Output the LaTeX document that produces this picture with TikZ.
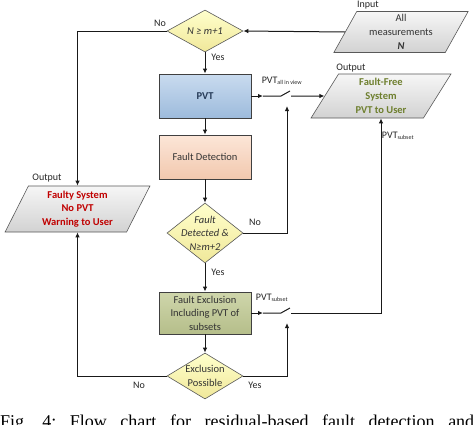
\documentclass[tikz,border=0pt]{standalone}
\usepackage{fontspec}
\setmainfont{Carlito}
\newfontfamily\capfont{Liberation Serif}
\usetikzlibrary{shapes.geometric,arrows.meta}
\definecolor{pvttop}{HTML}{C9DBEF}
\definecolor{pvtbot}{HTML}{9DBBDC}
\definecolor{fdtop}{HTML}{FCE6D8}
\definecolor{fdbot}{HTML}{F2C8AE}
\definecolor{fetop}{HTML}{CFD6AB}
\definecolor{febot}{HTML}{B5BE8A}
\definecolor{dtop}{HTML}{FFFFCC}
\definecolor{dbot}{HTML}{F0E89A}
\definecolor{iotop}{HTML}{F6F6F6}
\definecolor{iobot}{HTML}{D2D2D2}
\definecolor{olivetxt}{HTML}{6E7F2E}
\definecolor{redtxt}{HTML}{C00000}
\definecolor{bluetxt}{HTML}{263B58}
\begin{document}
\begin{tikzpicture}[x=1pt,y=-1pt,
  proc/.style={rectangle, draw=black!75, line width=0.8pt, minimum width=92pt, minimum height=44pt, inner sep=0pt, align=center, font=\fontsize{10.5}{13.5}\selectfont, text=black!80},
  dec/.style={diamond, draw=black!65, line width=0.6pt, top color=dtop, bottom color=dbot, inner sep=0pt, minimum width=76pt},
  io/.style={trapezium, trapezium left angle=65, trapezium right angle=115, trapezium stretches, draw=black!65, line width=0.6pt, top color=iotop, bottom color=iobot, inner sep=0pt, align=center, font=\fontsize{10.5}{14}\selectfont},
  flow/.style={line width=1pt, draw=black!90, -{Latex[length=5pt,width=4.5pt]}},
  plain/.style={line width=1pt, draw=black!90},
  lbl/.style={font=\fontsize{10}{12}\selectfont, inner sep=0pt, text=black!85},
  dtext/.style={align=center, font=\fontsize{10.5}{13.5}\selectfont\itshape, text=black!80}
]
\useasboundingbox (0,0) rectangle (474,424);

% nodes
\node[dec, minimum height=42pt, label={[dtext]center:{N ≥ m+1}}] (d1) at (205,31) {};
\node[io, minimum width=135pt, minimum height=41pt, text=black!80] (in) at (401,32) {All\\measurements\\\textbf{\textit{N}}};
\node[lbl] (inl) at (368,5) {Input};

\node[proc, top color=pvttop, bottom color=pvtbot, font=\fontsize{10.5}{13.5}\selectfont\bfseries, text=bluetxt] (pvt) at (205,96) {PVT};
\node[io, minimum width=140pt, minimum height=44pt, text=olivetxt, font=\fontsize{10.5}{14}\selectfont\bfseries] (ff) at (381,96) {Fault-Free\\System\\PVT to User};
\node[lbl] (ffl) at (351,68) {Output};

\node[proc, top color=fdtop, bottom color=fdbot] (fd) at (205,157) {Fault Detection};
\node[dec, minimum height=60pt, label={[dtext]center:{Fault\\Detected \&\\N≥m+2}}] (d2) at (205,233) {};
\node[proc, minimum height=42pt, top color=fetop, bottom color=febot] (fe) at (205,313) {Fault Exclusion\\Including PVT of\\subsets};
\node[dec, minimum height=46pt, label={[align=center, font=\fontsize{10.5}{13.5}\selectfont, text=black!80]center:{Exclusion\\Possible}}] (d3) at (205,376) {};

\node[io, minimum width=145pt, minimum height=46pt, text=redtxt, font=\fontsize{10.5}{13.5}\selectfont\bfseries] (fs) at (77.5,209) {Faulty System\\No PVT\\Warning to User};
\node[lbl] (fsl) at (47,178) {Output};

% switch coordinates
\coordinate (a1) at (263,96);
\coordinate (s1) at (281,96);
\coordinate (b1) at (290,91);
\coordinate (s1b) at (291,96);
\coordinate (u1) at (287,106);
\coordinate (a2) at (263,313);
\coordinate (s2) at (281,313);
\coordinate (b2) at (290,308);
\coordinate (s2b) at (291,313);
\coordinate (u2) at (287,323);

% connectors
\draw[flow] (in.west) -- (d1.east);
\draw[flow] (d1.west) -| (fs.north);
\draw[flow] (d1.south) -- (pvt.north);
\draw[flow] (pvt.east) -- (a1);
\draw[plain] (a1) -- (s1) -- (b1);
\draw[flow] (s1b) -- (ff.west);
\draw[flow] (pvt.south) -- (fd.north);
\draw[flow] (fd.south) -- (d2.north);
\draw[flow] (d2.east) -| (u1);
\draw[flow] (d2.south) -- (fe.north);
\draw[flow] (fe.east) -- (a2);
\draw[plain] (a2) -- (s2) -- (b2);
\draw[flow] (s2b) -| (ff.south);
\draw[flow] (fe.south) -- (d3.north);
\draw[flow] (d3.east) -| (u2);
\draw[flow] (d3.west) -| (fs.south);

% labels
\node[lbl] (no1) at (160,23) {No};
\node[lbl] (yes1) at (218,57) {Yes};
\node[lbl, anchor=base] (pv1) at (282,83) {PVT\textsubscript{\fontsize{6}{7}\selectfont all in view}};
\node[lbl] (no2) at (255,222) {No};
\node[lbl] (yes2) at (218,272) {Yes};
\node[lbl, anchor=base] (pv2) at (272,300) {PVT\textsubscript{\fontsize{6}{7}\selectfont subset}};
\node[lbl, anchor=base] (pv3) at (398,138) {PVT\textsubscript{\fontsize{6}{7}\selectfont subset}};
\node[lbl] (no3) at (139,385) {No};
\node[lbl] (yes3) at (255,385) {Yes};

% caption (cut off at the bottom edge, as in the reference)
\node[anchor=base west, inner sep=0pt] (cap) at (0,427) {\capfont\fontsize{18}{21}\selectfont\hbox to 474pt{Fig.\hfill 4:\hfill Flow\hfill chart\hfill for\hfill residual-based\hfill fault\hfill detection\hfill and}};
\end{tikzpicture}
\end{document}
